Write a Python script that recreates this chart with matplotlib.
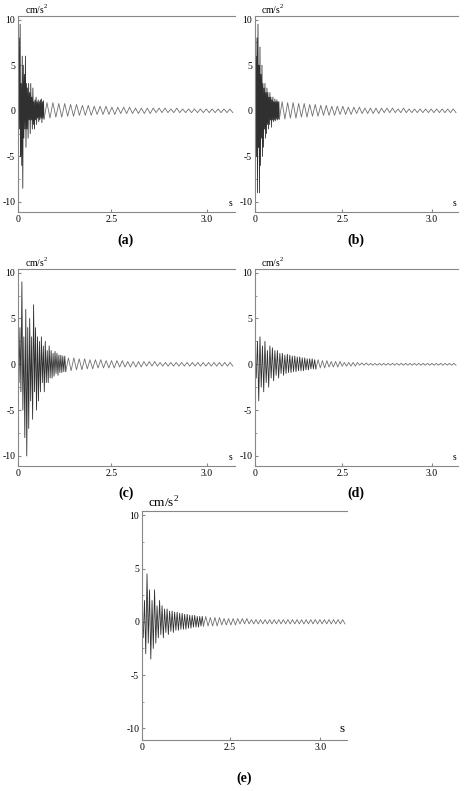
import numpy as np
import matplotlib
matplotlib.use("Agg")
import matplotlib.pyplot as plt

plt.rcParams['font.family'] = ['Liberation Serif', 'DejaVu Serif']
plt.rcParams['axes.unicode_minus'] = False
plt.rcParams['mathtext.fontset'] = 'custom'
plt.rcParams['mathtext.rm'] = 'Liberation Serif'

xtick_pos = [0, 0.43, 0.87]
xtick_labels = ["0", "2.5", "3.0"]
ytick_vals = [-10, -5, 0, 5, 10]

burst_a = [0,-4,8,-2,9.5,-5,3,-6,6,-8.5,5,-3,4,-2,6,-4,3,-2,2.5,-3,3,-1,2,-2.5,3,-1,1.5,-2,2.5,-1.5,1,-2,1.2,-1,1.5,-1.5,1,-0.8,1.2,-1.2,1,-1,1.2,-0.8,1.3,-1.3,1,-0.8,1.1,-0.9]
tail_a = [0.9,-0.8,0.9,-0.7,0.8,-0.7,0.8,-0.6,0.7,-0.6,0.7,-0.5,0.6,-0.5,0.6,-0.5,0.5,-0.4,0.5,-0.4,0.5,-0.4,0.4,-0.4,0.4,-0.3,0.4,-0.3,0.4,-0.3,0.3,-0.3,0.3,-0.3,0.3,-0.3,0.3,-0.2,0.3,-0.2,0.3,-0.2,0.2,-0.2,0.3,-0.2,0.2,-0.2,0.2,-0.2,0.2,-0.2,0.2,-0.2,0.2,-0.2,0.2,-0.2,0.2,-0.2,0.2,-0.2,0.2,-0.2]
burst_b = [0,-3,6,-5,8,-9,9.5,-4,5,-9,7,-6,4,-3,5,-5,3,-4,2.5,-2,3,-3,2,-2.5,2.5,-1.5,2,-2,1.5,-1.5,2,-1,1.5,-1.8,1.2,-1,1.5,-1.2,1,-1,1.3,-1.1,1,-0.9,1.2,-1,1,-0.9,1,-0.9]
tail_b = [1.0,-0.9,0.9,-0.8,0.9,-0.8,0.8,-0.7,0.8,-0.7,0.7,-0.6,0.7,-0.6,0.6,-0.5,0.6,-0.5,0.5,-0.5,0.5,-0.4,0.5,-0.4,0.4,-0.4,0.4,-0.3,0.4,-0.3,0.3,-0.3,0.3,-0.3,0.3,-0.3,0.3,-0.2,0.3,-0.2,0.3,-0.2,0.2,-0.2,0.3,-0.2,0.2,-0.2,0.2,-0.2,0.2,-0.2,0.2,-0.2,0.2,-0.2,0.2,-0.2,0.2,-0.2,0.2,-0.2,0.2,-0.2]
burst_c = [0,-2,4,-3,9,-5,3,-8,6,-10,4,-7,5,-4,3,-6,6.5,-3,4,-5,3,-4,2.5,-3,3,-2,2,-3,2.5,-2,1.5,-2,2,-1.5,1.5,-1.5,1.2,-1.3,1.4,-1,1.2,-1.2,1,-0.9,1,-0.9,0.9,-0.8,0.9,-0.8]
tail_c = [0.7,-0.7,0.7,-0.6,0.6,-0.6,0.6,-0.5,0.5,-0.5,0.5,-0.4,0.5,-0.4,0.4,-0.4,0.4,-0.4,0.4,-0.3,0.4,-0.3,0.3,-0.3,0.3,-0.3,0.3,-0.3,0.3,-0.2,0.3,-0.2,0.3,-0.2,0.2,-0.2,0.2,-0.2,0.2,-0.2,0.2,-0.2,0.2,-0.2,0.2,-0.2,0.2,-0.2,0.2,-0.2,0.2,-0.2,0.2,-0.2,0.2,-0.2,0.2,-0.2,0.2,-0.2,0.2,-0.2]
burst_d = [0,-1.5,2.5,-4,3,-2.5,2,-3,2.5,-2,1.5,-2.5,2,-1.5,1.8,-1.8,1.5,-1.2,1.5,-1.5,1.2,-1,1.2,-1.2,1,-1,1.1,-0.9,1,-0.9,0.9,-0.8,0.9,-0.8,0.8,-0.7,0.8,-0.7,0.7,-0.7,0.7,-0.6,0.6,-0.6,0.6,-0.5,0.6,-0.5,0.5,-0.5]
tail_d = [0.5,-0.4,0.4,-0.4,0.4,-0.3,0.3,-0.3,0.3,-0.3,0.3,-0.2,0.2,-0.2,0.2,-0.2,0.2,-0.2,0.2,-0.1,0.15,-0.1,0.15,-0.1,0.1,-0.1,0.1,-0.1,0.1,-0.1,0.1,-0.1,0.1,-0.1,0.1,-0.1,0.1,-0.1,0.1,-0.1,0.1,-0.1,0.1,-0.1,0.1,-0.1,0.1,-0.1,0.1,-0.1,0.1,-0.1,0.1,-0.1,0.1,-0.1,0.1,-0.1,0.1,-0.1,0.1,-0.1,0.1,-0.1]
burst_e = [0,-1.5,2,-3,4.5,-2,3,-3.5,2,-2.5,3,-2,1.5,-1.5,2,-1.2,1.5,-1.5,1.2,-1,1.2,-1.2,1,-0.9,1,-1,0.9,-0.8,0.9,-0.8,0.8,-0.7,0.8,-0.7,0.7,-0.7,0.7,-0.6,0.6,-0.6,0.6,-0.5,0.6,-0.5,0.5,-0.5,0.5,-0.4,0.5,-0.4]
tail_e = [0.5,-0.4,0.4,-0.4,0.4,-0.4,0.4,-0.3,0.3,-0.3,0.3,-0.3,0.3,-0.3,0.3,-0.2,0.3,-0.2,0.3,-0.2,0.2,-0.2,0.2,-0.2,0.2,-0.2,0.2,-0.2,0.2,-0.2,0.2,-0.2,0.2,-0.2,0.2,-0.2,0.2,-0.2,0.2,-0.2,0.2,-0.2,0.2,-0.2,0.2,-0.2,0.2,-0.2,0.2,-0.2,0.2,-0.2,0.2,-0.2,0.2,-0.2,0.2,-0.2,0.2,-0.2,0.2,-0.2]

W, H = 474, 791
fig = plt.figure(figsize=(W/100, H/100), dpi=100)

def rect(x0, x1, y0, y1):
    return [x0/W, 1-y1/H, (x1-x0)/W, (y1-y0)/H]

panels = [
    ("a", rect(18, 235, 16, 212), burst_a, tail_a, 0.12, 240, 126, 7),
    ("b", rect(255, 458, 16, 212), burst_b, tail_b, 0.12, 240, 356, 7),
    ("c", rect(18, 235, 269, 466), burst_c, tail_c, 0.22, 493, 126, 7),
    ("d", rect(255, 458, 269, 466), burst_d, tail_d, 0.3, 493, 356, 7),
    ("e", rect(142, 347, 511, 740), burst_e, tail_e, 0.3, 778, 244, 9.5),
]

for name, r, burst, tail, bend, ly, lx, fs in panels:
    ax = fig.add_axes(r)
    xb = np.linspace(0.0, bend, len(burst))
    xt = np.linspace(bend, 0.99, len(tail) + 1)[1:]
    ax.plot(xb, burst, color='#303030', lw=0.6)
    ax.plot(np.r_[xb[-1], xt], np.r_[burst[-1], tail], color='#707070', lw=0.6)
    ax.set_xlim(0, 1)
    ax.set_ylim(-11.1, 10.4)
    ax.spines['right'].set_visible(False)
    for s in ['left', 'bottom', 'top']:
        ax.spines[s].set_color('#888888')
        ax.spines[s].set_linewidth(0.8)
    ax.set_xticks(xtick_pos)
    ax.set_xticklabels(xtick_labels)
    ax.set_yticks(ytick_vals)
    ax.tick_params(labelsize=7, length=2, color='#888888', direction='in', pad=2)
    ax.set_yticks([-7.5, -2.5, 2.5, 7.5], minor=True)
    ax.tick_params(which='minor', length=1.5, color='#888888', direction='in')
    ax.text(0.03, 1.0, "cm/s$^\\mathrm{2}$", transform=ax.transAxes, fontsize=fs, va='bottom')
    ax.text(0.99, 0.02, "s", transform=ax.transAxes, fontsize=fs, ha='right', va='bottom')
    fig.text(lx/W, 1-ly/H, "(" + name + ")", ha='center', va='center', fontsize=10, fontweight='bold')

fig.savefig("out.png", dpi=100)
